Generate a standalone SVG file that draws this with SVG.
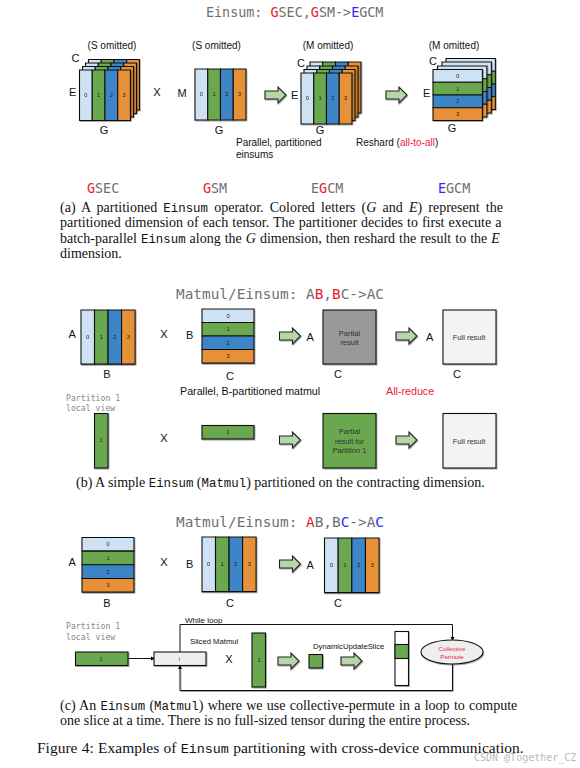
<svg xmlns="http://www.w3.org/2000/svg" width="580" height="768" viewBox="0 0 580 768">
<style>
text{font-family:"Liberation Sans",Arial,sans-serif;font-size:10px;fill:#111}
.L{font-size:11px}
.m{font-size:5.8px;text-anchor:middle;fill:#222}
.c{text-anchor:middle}
.s{font-size:7.5px;text-anchor:middle;fill:#333}
.t{font-family:"DejaVu Sans Mono",monospace;fill:#707070}
.t1{font-size:13.4px}.t2{font-size:14.4px}.t3{font-size:13.4px}
.p{font-family:"DejaVu Sans Mono",monospace;font-size:8.2px;fill:#888}
.r{fill:#e3222b}.b{fill:#2a2aee}.red{fill:#f02040}
.cap{font-family:"Liberation Serif",serif;font-size:14px;fill:#111}
.mono{font-family:"Liberation Mono",monospace;font-size:12.4px;fill:#111}
.i{font-style:italic}
.e{stroke:#111;stroke-width:1.1}
.lb{fill:#cfe2f3}.gn{fill:#6aa84f}.bl{fill:#3d85c6}.or{fill:#e69138}
.ar{fill:#b6d7a8;stroke:#222;stroke-width:1.1}
.ln{fill:none;stroke:#111;stroke-width:1}
</style>
<defs>
<filter id="sh" x="-10%" y="-10%" width="125%" height="125%"><feDropShadow dx="0.8" dy="1" stdDeviation="0.7" flood-color="#000" flood-opacity="0.35"/></filter>
<g id="v" filter="url(#sh)">
<rect class="e lb" x="0" y="0" width="13" height="52" vector-effect="non-scaling-stroke"/>
<rect class="e gn" x="13" y="0" width="13" height="52" vector-effect="non-scaling-stroke"/>
<rect class="e bl" x="26" y="0" width="13" height="52" vector-effect="non-scaling-stroke"/>
<rect class="e or" x="39" y="0" width="13" height="52" vector-effect="non-scaling-stroke"/>
<text class="m" x="6.5" y="28">0</text><text class="m" x="19.5" y="28">1</text><text class="m" x="32.5" y="28">2</text><text class="m" x="45.5" y="28">3</text>
</g>
<g id="h" filter="url(#sh)">
<rect class="e lb" x="0" y="0" width="52" height="13" vector-effect="non-scaling-stroke"/>
<rect class="e gn" x="0" y="13" width="52" height="13" vector-effect="non-scaling-stroke"/>
<rect class="e bl" x="0" y="26" width="52" height="13" vector-effect="non-scaling-stroke"/>
<rect class="e or" x="0" y="39" width="52" height="13" vector-effect="non-scaling-stroke"/>
<text class="m" x="26" y="8.5">0</text><text class="m" x="26" y="21.5">1</text><text class="m" x="26" y="34.5">2</text><text class="m" x="26" y="47.5">3</text>
</g>
<path id="a" class="ar" filter="url(#sh)" d="M0-4H13V-8L21 0 13 8V4H0Z"/>
</defs>

<g id="title-a"><text class="t t1" x="206" y="17">Einsum: <tspan class="r">G</tspan>SEC,<tspan class="r">G</tspan>SM-&gt;<tspan class="b">E</tspan>GCM</text></g>

<g id="tensor-gsec">
<use href="#v" transform="translate(88.5,59.5) scale(.98,.97)"/>
<use href="#v" transform="translate(85.5,63) scale(.98,.97)"/>
<use href="#v" transform="translate(82.5,66.5) scale(.98,.97)"/>
<use href="#v" transform="translate(79.5,70) scale(.98,.97)"/>
<text class="c" x="112" y="49">(S omitted)</text>
<text class="L" x="71.5" y="62">C</text><text class="L" x="69" y="96">E</text><text class="c L" x="104" y="134">G</text>
</g>
<g id="op-x-a"><text class="c L" x="157" y="96">X</text></g>
<g id="tensor-gsm">
<use href="#v" transform="translate(195,69) scale(.98,.98)"/>
<text class="c" x="216.500" y="49">(S omitted)</text>
<text class="c L" x="182" y="97">M</text><text class="c L" x="219" y="134">G</text>
</g>
<g id="tensor-egcm-1">
<use href="#v" transform="translate(310,62) scale(.98,.98)"/>
<use href="#v" transform="translate(307,66) scale(.98,.98)"/>
<use href="#v" transform="translate(304,69.5) scale(.98,.98)"/>
<use href="#v" transform="translate(301,73) scale(.98,.98)"/>
<text class="c" x="328" y="49">(M omitted)</text>
<text class="L" x="297" y="67">C</text><text class="L" x="291" y="99">E</text><text class="c L" x="320" y="134">G</text>
</g>
<g id="tensor-egcm-2">
<use href="#h" transform="translate(446,58.5) scale(.95,.98)"/>
<use href="#h" transform="translate(442,62) scale(.95,.98)"/>
<use href="#h" transform="translate(437.500,66) scale(.95,.98)"/>
<use href="#h" transform="translate(433,69.500) scale(.95,.98)"/>
<text class="c" x="454" y="49">(M omitted)</text>
<text class="L" x="429" y="65">C</text><text class="L" x="423" y="97">E</text><text class="c L" x="452" y="132">G</text>
</g>
<g id="labels-a">
<text x="236" y="146">Parallel, partitioned</text>
<text x="236" y="158">einsums</text>
<text x="356" y="146">Reshard (<tspan class="red">all-to-all</tspan>)</text>
<text class="t t3" x="87" y="192.500"><tspan class="r">G</tspan>SEC</text>
<text class="t t3" x="203" y="192.500"><tspan class="r">G</tspan>SM</text>
<text class="t t3" x="311" y="192.500">E<tspan class="r">G</tspan>CM</text>
<text class="t t3" x="438" y="192.500"><tspan class="b">E</tspan>GCM</text>
</g>
<g id="caption-a">
<text class="cap" x="60" y="212" word-spacing="2.7">(a) A partitioned <tspan class="mono">Einsum</tspan> operator. Colored letters (<tspan class="i">G</tspan> and <tspan class="i">E</tspan>) represent the</text>
<text class="cap" x="60" y="227" word-spacing="0.5">partitioned dimension of each tensor. The partitioner decides to first execute a</text>
<text class="cap" x="60" y="242.500" word-spacing="0.5">batch-parallel <tspan class="mono">Einsum</tspan> along the <tspan class="i">G</tspan> dimension, then reshard the result to the <tspan class="i">E</tspan></text>
<text class="cap" x="60" y="258">dimension.</text>
</g>

<g id="title-b"><text class="t t2" x="176" y="299">Matmul/Einsum: A<tspan class="r">B</tspan>,<tspan class="r">B</tspan>C-&gt;AC</text></g>
<g id="matrix-ab">
<use href="#v" transform="translate(81,310) scale(1.04,1.04)"/>
<text class="L" x="68.500" y="338">A</text><text class="c L" x="107" y="378">B</text>
</g>
<g id="op-x-b"><text class="c L" x="164" y="338">X</text></g>
<g id="matrix-bc">
<use href="#h" transform="translate(202,309) scale(1,1.04)"/>
<text class="L" x="186" y="339">B</text><text class="c L" x="230" y="380">C</text>
</g>
<g id="partial-result">
<rect class="e" filter="url(#sh)" x="323" y="310" width="53" height="54" fill="#999"/>
<text class="s" x="349.500" y="336">Partial</text><text class="s" x="349.500" y="345">result</text>
<text class="L" x="306.500" y="341">A</text><text class="c L" x="338" y="378">C</text>
</g>
<g id="full-result">
<rect class="e" filter="url(#sh)" x="443" y="310" width="53" height="54" fill="#f3f3f3"/>
<text class="s" x="469" y="340">Full result</text>
<text class="L" x="426" y="341">A</text><text class="c L" x="457" y="378">C</text>
</g>
<g id="labels-b">
<text x="180" y="395" style="font-size:10.700px">Parallel, B-partitioned matmul</text>
<text class="red" x="386" y="395" style="font-size:10.700px">All-reduce</text>
<text class="p" x="66" y="401">Partition 1</text>
<text class="p" x="66" y="411">local view</text>
</g>
<g id="local-a">
<rect class="e gn" filter="url(#sh)" x="94.500" y="413.500" width="13.500" height="54.500"/>
<text class="m" x="101" y="442">1</text>
</g>
<g id="op-x-b2"><text class="c L" x="164" y="442">X</text></g>
<g id="local-b">
<rect class="e gn" filter="url(#sh)" x="202" y="425.500" width="52" height="13.500"/>
<text class="m" x="228" y="434">1</text>
</g>
<g id="partial-1">
<rect class="e gn" filter="url(#sh)" x="323" y="413.500" width="53" height="54.500"/>
<text class="s" x="349.500" y="434">Partial</text><text class="s" x="349.500" y="444">result for</text><text class="s" x="349.500" y="453">Partition 1</text>
</g>
<g id="full-1">
<rect class="e" filter="url(#sh)" x="443" y="413.500" width="53" height="54.500" fill="#f3f3f3"/>
<text class="s" x="469" y="444">Full result</text>
</g>
<g id="caption-b"><text class="cap" x="76" y="487">(b) A simple <tspan class="mono">Einsum</tspan> (<tspan class="mono">Matmul</tspan>) partitioned on the contracting dimension.</text></g>

<g id="title-c"><text class="t t2" x="176" y="527">Matmul/Einsum: <tspan class="r">A</tspan>B,B<tspan class="b">C</tspan>-&gt;A<tspan class="b">C</tspan></text></g>
<g id="c-matrix-ab">
<use href="#h" transform="translate(82,537.500) scale(1,1.05)"/>
<text class="L" x="68.500" y="566">A</text><text class="c L" x="107" y="607">B</text>
</g>
<g id="op-x-c"><text class="c L" x="164" y="566">X</text></g>
<g id="c-matrix-bc">
<use href="#v" transform="translate(202,537) scale(1.04,1.05)"/>
<text class="L" x="186" y="568">B</text><text class="c L" x="230" y="607">C</text>
</g>
<g id="c-matrix-ac">
<use href="#v" transform="translate(324.500,538) scale(1.05,1.05)"/>
<text class="L" x="306.500" y="569">A</text><text class="c L" x="338" y="607">C</text>
</g>
<g id="loop-labels">
<text x="185" y="623" style="font-size:8px">While loop</text>
<text x="190" y="644" style="font-size:7.700px">Sliced Matmul</text>
<text x="313" y="649" style="font-size:7.700px">DynamicUpdateSlice</text>
<text class="p" x="66" y="629">Partition 1</text>
<text class="p" x="66" y="640">local view</text>
</g>

<g id="connectors">
<use href="#a" x="265" y="95"/>
<use href="#a" x="386" y="95"/>
<use href="#a" x="279.500" y="336"/>
<use href="#a" x="396" y="336"/>
<use href="#a" x="279.500" y="440"/>
<use href="#a" x="396" y="440"/>
<use href="#a" x="279.500" y="564"/>
<use href="#a" x="278" y="661"/>
<use href="#a" x="341" y="661"/>
<path class="ln" d="M128 658.500H151"/><path d="M151 656.500l4 2-4 2z"/>
<path class="ln" d="M180 652V624.500H452.500V637"/><path d="M450.500 637h4l-2 4z"/>
<path class="ln" d="M452.500 664V690.500H180V668" style="filter:url(#sh)"/><path d="M178 669h4l-2-4z"/>
</g>

<g id="local-c-a">
<rect class="e gn" filter="url(#sh)" x="75.500" y="652" width="52.500" height="13.500"/>
<text class="m" x="101" y="661">1</text>
</g>
<g id="slice-i">
<rect class="e" filter="url(#sh)" x="154" y="652" width="52" height="13.500" fill="#eee"/>
<text class="m" x="179.500" y="661">i</text>
</g>
<g id="op-x-c2"><text class="c L" x="229" y="663">X</text></g>
<g id="sliced-matmul">
<rect class="e gn" filter="url(#sh)" x="252" y="633" width="13.500" height="54"/>
<text class="m" x="259" y="662">1</text>
</g>
<g id="slice-result"><rect class="e gn" filter="url(#sh)" x="309" y="654.500" width="13.500" height="13.500"/></g>
<g id="update-column">
<rect class="e" filter="url(#sh)" x="395" y="631.500" width="13.500" height="54" fill="#fff"/>
<rect class="e gn" x="395" y="644.500" width="13.500" height="14"/>
</g>
<g id="collective-permute">
<ellipse class="e" filter="url(#sh)" cx="452" cy="652" rx="31" ry="12" fill="#eee"/>
<text class="s" style="fill:#f02040;font-size:6.200px" x="452" y="651">Collective</text>
<text class="s" style="fill:#f02040;font-size:6.200px" x="452" y="658.500">Permute</text>
</g>
<g id="caption-c">
<text class="cap" x="60" y="709.500" word-spacing="0.8">(c) An <tspan class="mono">Einsum</tspan> (<tspan class="mono">Matmul</tspan>) where we use collective-permute in a loop to compute</text>
<text class="cap" x="60" y="724.500">one slice at a time. There is no full-sized tensor during the entire process.</text>
</g>
<g id="figure-caption"><text class="cap" x="37" y="752.500" word-spacing="0.4" style="font-size:15.500px">Figure 4: Examples of <tspan class="mono" style="font-size:13.400px">Einsum</tspan> partitioning with cross-device communication.</text></g>
<g id="watermark"><text x="474" y="761" style="font-family:'DejaVu Sans Mono',monospace;font-size:10px;fill:#bbb">CSDN @Together_CZ</text></g>
</svg>
